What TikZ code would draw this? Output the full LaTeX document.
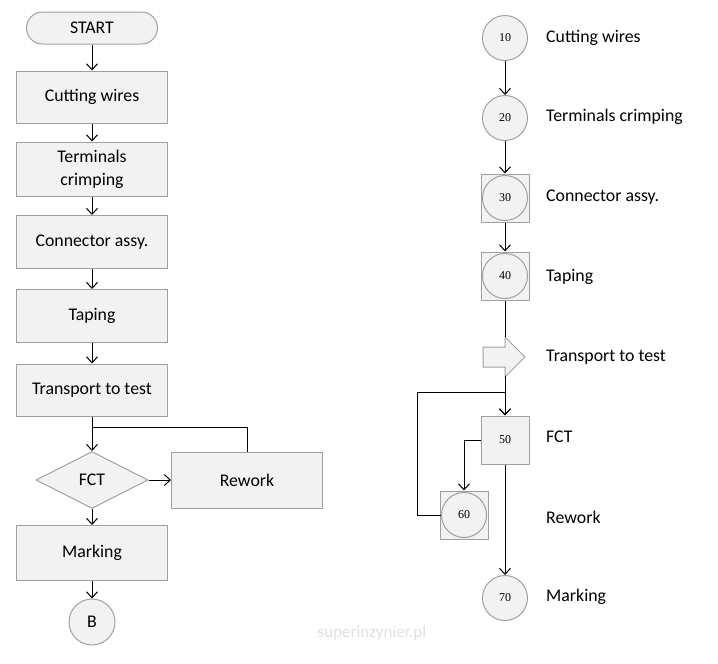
\documentclass[tikz,border=0pt]{standalone}
\usepackage{fontspec}
\setmainfont{Carlito}
\newfontfamily\numfont{Liberation Serif}
\usetikzlibrary{shapes.geometric,arrows.meta}
\definecolor{fillg}{HTML}{F2F2F2}
\definecolor{edgeg}{HTML}{A0A0A0}
\begin{document}
\begin{tikzpicture}[x=1pt,y=-1pt,
  box/.style={draw=edgeg,fill=fillg,line width=1pt,minimum width=151pt,align=center,font=\fontsize{17.8}{23}\selectfont,inner sep=0pt},
  circ/.style={circle,draw=edgeg,fill=fillg,line width=1pt,minimum size=45pt,inner sep=0pt,font=\numfont\fontsize{12}{14}\selectfont},
  sq/.style={draw=edgeg,fill=fillg,line width=1pt,minimum size=48pt,inner sep=0pt},
  lab/.style={anchor=west,font=\fontsize{17.8}{20}\selectfont,inner sep=0pt},
  arr/.style={-{Straight Barb[length=6pt,width=11pt]},line width=1pt},
  ln/.style={line width=1pt}]
\useasboundingbox (0,0) rectangle (718,664);
% left
\node[box,rounded corners=16pt,minimum width=131pt,minimum height=32pt] (start) at (92,28) {START};
\node[box,minimum height=52pt] (cut) at (92,97) {Cutting wires};
\node[box,minimum height=54pt] (term) at (92,169) {Terminals\\crimping};
\node[box,minimum height=53pt] (conn) at (92,242) {Connector assy.};
\node[box,minimum height=53pt] (tap) at (92,316) {Taping};
\node[box,minimum height=52pt] (tr) at (92,390) {Transport to test};
\node[diamond,draw=edgeg,fill=fillg,line width=1pt,minimum width=112pt,minimum height=57pt,inner sep=0pt,aspect=2,font=\fontsize{17.8}{20}\selectfont] (fct) at (92,480) {FCT};
\node[box,minimum height=56pt] (rew) at (247,480) {Rework};
\node[box,minimum height=55pt] (mark) at (92,553) {Marking};
\node[circle,draw=edgeg,fill=fillg,line width=1pt,minimum size=46pt,inner sep=0pt,font=\fontsize{17.8}{20}\selectfont] (b) at (92,622) {B};
\draw[arr] (start) -- (cut);
\draw[arr] (cut) -- (term);
\draw[arr] (term) -- (conn);
\draw[arr] (conn) -- (tap);
\draw[arr] (tap) -- (tr);
\draw[arr] (tr) -- (fct);
\draw[ln] (rew.north) |- (92,427);
\draw[arr] (fct) -- (rew);
\draw[arr] (fct) -- (mark);
\draw[arr] (mark) -- (b);
% right
\node[circ] (c10) at (505,38) {10};
\node[circ] (c20) at (505,118) {20};
\node[sq] (s30) at (505,198) {};
\node[circ] (c30) at (505,198) {30};
\node[sq] (s40) at (505,276) {};
\node[circ] (c40) at (505,276) {40};
\coordinate (tin) at (505,337);
\coordinate (tout) at (505,376);
\filldraw[draw=edgeg,fill=fillg,line width=1pt] (483,347) -- (505,347) -- (505,337) -- (525,357) -- (505,377) -- (505,367) -- (483,367) -- cycle;
\node[sq,font=\numfont\fontsize{12}{14}\selectfont] (s50) at (505,440) {50};
\node[sq] (s60) at (464,515) {};
\node[circ] (c60) at (464,515) {60};
\node[circ] (c70) at (505,598) {70};
\draw[arr] (c10) -- (c20);
\draw[arr] (c20) -- (s30);
\draw[arr] (s30) -- (s40);
\draw[ln] (s40) -- (tin);
\draw[arr] (tout) -- (s50);
\draw[arr] (c60.west) -- (417,515) |- (505,392) -- (s50.north);
\draw[arr] (s50.west) -| (s60.north);
\draw[arr] (s50) -- (c70);
\node[lab] at (546,38) {Cutting wires};
\node[lab] at (546,117) {Terminals crimping};
\node[lab] at (546,197) {Connector assy.};
\node[lab] at (546,277) {Taping};
\node[lab] at (546,357) {Transport to test};
\node[lab] at (546,437) {FCT};
\node[lab] at (546,517) {Rework};
\node[lab] at (546,597) {Marking};
\node[text=black!12,font=\fontsize{17}{18}\selectfont] at (372,633) {superinzynier.pl};
\end{tikzpicture}
\end{document}
